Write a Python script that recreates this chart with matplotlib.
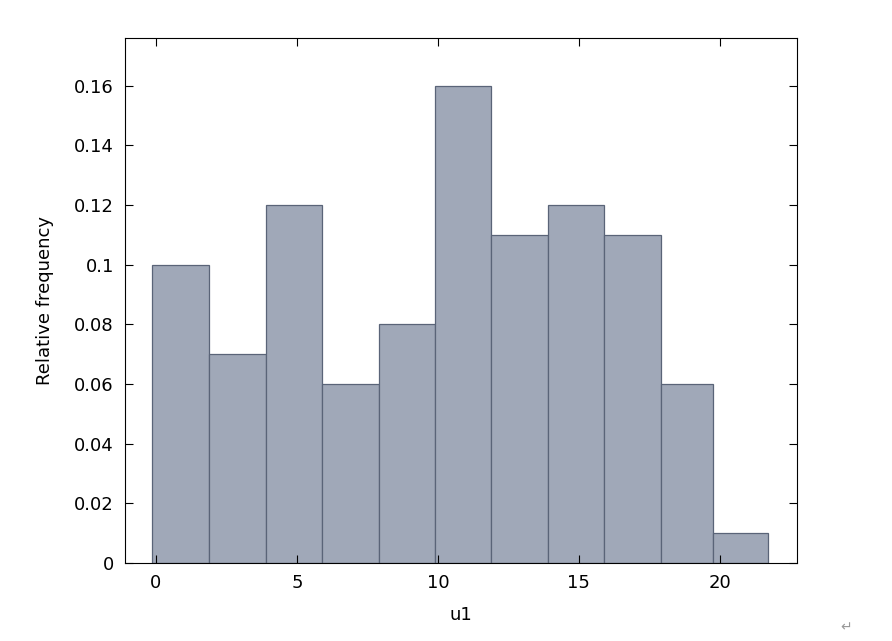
import numpy as np
import matplotlib.pyplot as plt

# histogram of u1 (relative frequency)
bin_left = [-0.15, 1.9, 3.9, 5.9, 7.9, 9.9, 11.9, 13.9, 15.9, 17.9, 19.75]
bin_width = [2.05, 2.0, 2.0, 2.0, 2.0, 2.0, 2.0, 2.0, 2.0, 1.85, 1.95]
rel_freq = [0.10, 0.07, 0.12, 0.06, 0.08, 0.16, 0.11, 0.12, 0.11, 0.06, 0.01]

fig = plt.figure(figsize=(8.92, 6.41), dpi=100)
ax = fig.add_axes([0.140, 0.1217, 0.7534, 0.819])

ax.bar(bin_left, rel_freq, width=bin_width, align='edge',
       color='#a0a8b8', edgecolor='#5a6478', linewidth=0.9)

ax.set_xlim(-1.1, 22.73)
ax.set_ylim(0, 0.176)
ax.set_xticks([0, 5, 10, 15, 20])
ax.set_yticks(np.arange(0, 0.161, 0.02))
ax.set_yticklabels(['0', '0.02', '0.04', '0.06', '0.08', '0.1', '0.12', '0.14', '0.16'])
ax.tick_params(direction='in', top=True, right=True, length=6, labelsize=13, pad=8)
ax.set_xlabel('u1', fontsize=13, labelpad=10)
ax.set_ylabel('Relative frequency', fontsize=13, labelpad=14)

fig.text(0.942, 0.015, '\u21b5', color='#999999', fontsize=10)

fig.savefig('out.png', dpi=100)
